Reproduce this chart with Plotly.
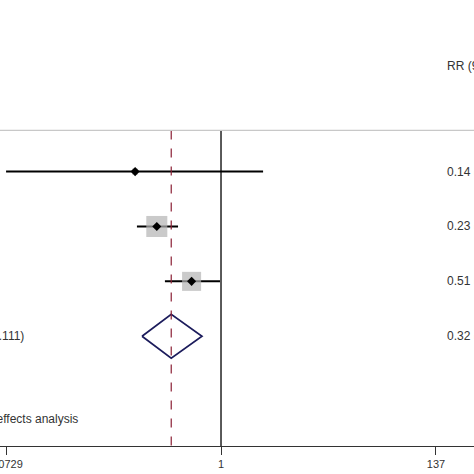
import plotly.graph_objects as go

# study rows (names cropped off in the reference)
rr = [0.14, 0.23, 0.51]
rr_lo = [0.0073, 0.146, 0.277]
rr_hi = [2.62, 0.374, 0.977]
weights = [4.3, 52.6, 43.1]
rr_text = ["0.14 (0.01, 2.62)", "0.23 (0.15, 0.37)", "0.51 (0.28, 0.98)"]

pooled = 0.32
pooled_lo = 0.164
pooled_hi = 0.647
pooled_text = "0.32 (0.16, 0.65)"

overall_label = "Overall  (I-squared = 54.9%, p = 0.111)"
note_label = "NOTE: Weights are from random effects analysis"
header_right = "RR (95% CI)"

tick_vals = [0.00729, 1, 137]
tick_text = [".00729", "1", "137"]

rows = [1, 2, 3]
pooled_row = 4
note_row = 5.5
font = "Liberation Sans, Arial, sans-serif"
W = 474

fig = go.Figure()

# CI lines
for r, lo, hi in zip(rows, rr_lo, rr_hi):
    fig.add_trace(go.Scatter(x=[lo, hi], y=[r, r], mode="lines",
                             line=dict(color="black", width=2), hoverinfo="skip"))

# weight boxes
fig.add_trace(go.Scatter(
    x=rr, y=rows, mode="markers",
    marker=dict(symbol="square", color="#b4b4b4",
                size=[2.9 * w ** 0.5 for w in weights], line=dict(width=0)),
))
# point estimates
fig.add_trace(go.Scatter(x=rr, y=rows, mode="markers",
                         marker=dict(symbol="diamond", color="black", size=7)))

# pooled diamond
fig.add_trace(go.Scatter(
    x=[pooled_lo, pooled, pooled_hi, pooled, pooled_lo],
    y=[pooled_row, pooled_row - 0.4, pooled_row, pooled_row + 0.4, pooled_row],
    mode="lines", fill="toself", fillcolor="white",
    line=dict(color="#1c1c5c", width=1.7),
))

# reference lines
fig.add_shape(type="line", xref="x", yref="y", x0=1, x1=1, y0=0.25, y1=6,
              line=dict(color="black", width=1.3))
fig.add_shape(type="line", xref="x", yref="y", x0=pooled, x1=pooled, y0=0.25, y1=6,
              line=dict(color="#8b2035", width=1.2, dash="dash"))
fig.add_shape(type="line", xref="paper", yref="y", x0=0, x1=1, y0=0.25, y1=0.25,
              line=dict(color="#c8c8c8", width=1.2))

# right column text
for r, t in zip(rows + [pooled_row], rr_text + [pooled_text]):
    fig.add_annotation(x=445 / W, y=r, xref="paper", yref="y", text=t, showarrow=False,
                       xanchor="left", font=dict(size=12, color="#333333"))
fig.add_annotation(x=445 / W, y=-0.93, xref="paper", yref="y", text=header_right,
                   showarrow=False, xanchor="left", font=dict(size=12, color="#333333"))

# left column text (mostly cropped)
fig.add_annotation(x=26 / W, y=pooled_row, xref="paper", yref="y", text=overall_label,
                   showarrow=False, xanchor="right", font=dict(size=12, color="#333333"))
fig.add_annotation(x=80 / W, y=note_row, xref="paper", yref="y", text=note_label,
                   showarrow=False, xanchor="right", font=dict(size=12, color="#333333"))

fig.update_layout(
    width=W, height=474, margin=dict(l=0, r=0, t=0, b=28),
    plot_bgcolor="white", paper_bgcolor="white", showlegend=False,
    font=dict(family=font, color="#333333"),
)
fig.update_xaxes(type="log", range=[-2.197, 2.515], showgrid=False, zeroline=False,
                 tickvals=tick_vals, ticktext=tick_text, ticks="outside", ticklen=8,
                 tickcolor="#333333", showline=True, linecolor="#333333", linewidth=1.3,
                 tickfont=dict(size=11, color="#333333"), ticklabeloverflow="allow",
                 automargin=False)
fig.update_yaxes(range=[6, -2.127], visible=False, showgrid=False, zeroline=False,
                 automargin=False)

fig.write_html("out.html", config={"displayModeBar": False},
               post_script="document.body.style.margin='0';")
